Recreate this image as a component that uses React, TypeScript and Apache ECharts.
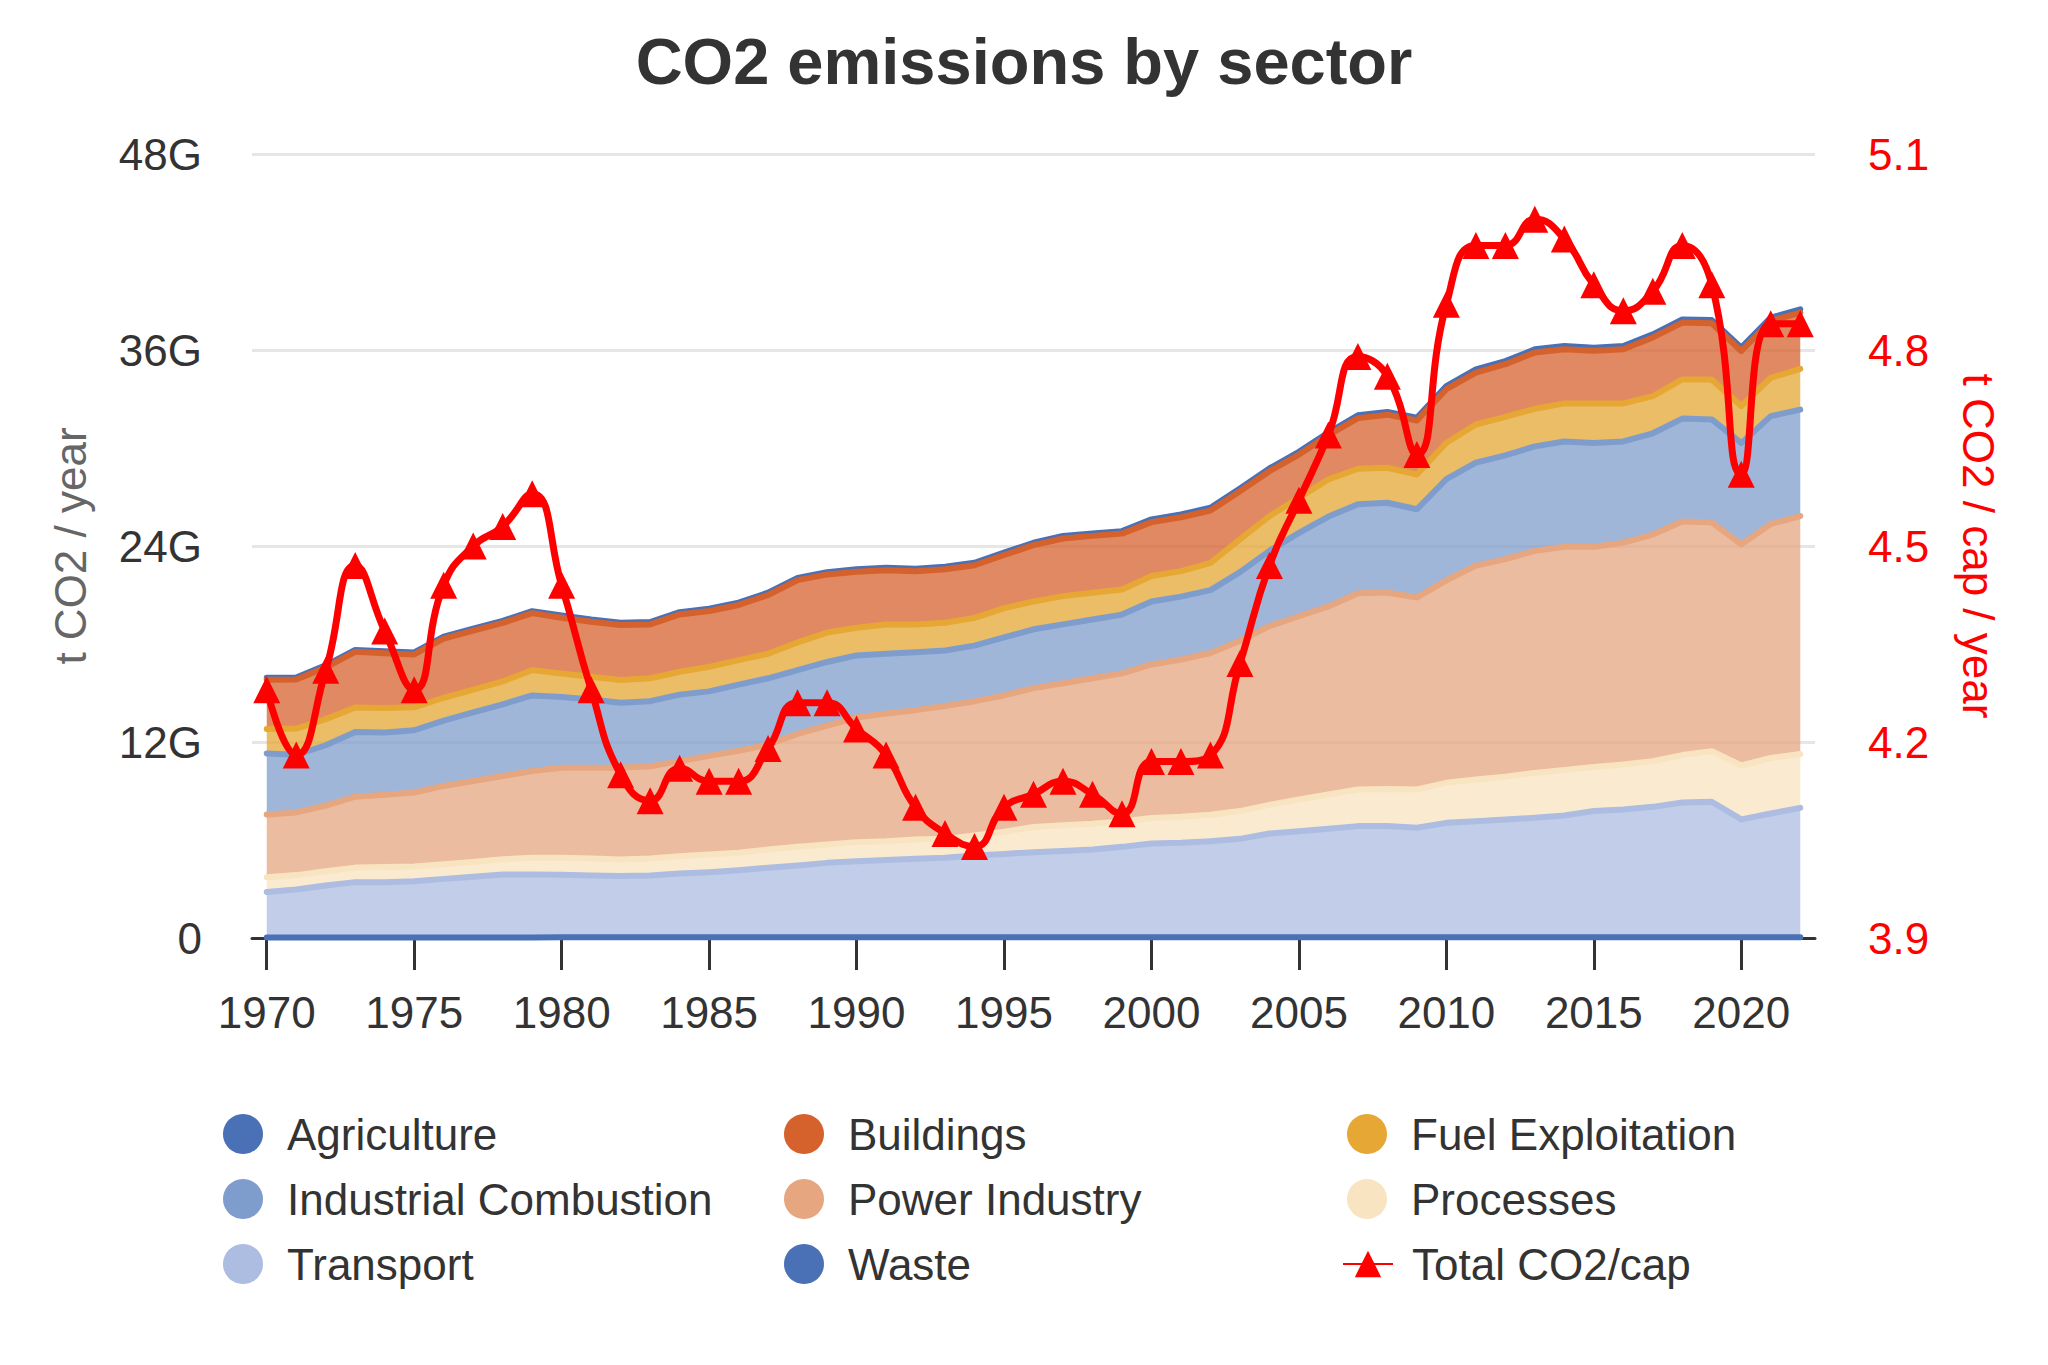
import React, { useEffect, useRef } from 'react';
import * as echarts from 'echarts';

// Emissions by sector, in Gt CO2 per year, 1970-2022
const years = [
  '1970', '1971', '1972', '1973', '1974', '1975', '1976', '1977', '1978', '1979',
  '1980', '1981', '1982', '1983', '1984', '1985', '1986', '1987', '1988', '1989',
  '1990', '1991', '1992', '1993', '1994', '1995', '1996', '1997', '1998', '1999',
  '2000', '2001', '2002', '2003', '2004', '2005', '2006', '2007', '2008', '2009',
  '2010', '2011', '2012', '2013', '2014', '2015', '2016', '2017', '2018', '2019',
  '2020', '2021', '2022',
];

const waste = [
  0.03, 0.03, 0.03, 0.03, 0.03, 0.03, 0.03, 0.03, 0.03, 0.03,
  0.04, 0.04, 0.04, 0.04, 0.04, 0.04, 0.04, 0.04, 0.04, 0.04,
  0.04, 0.04, 0.04, 0.04, 0.04, 0.04, 0.04, 0.04, 0.04, 0.04,
  0.05, 0.05, 0.05, 0.05, 0.05, 0.05, 0.05, 0.05, 0.05, 0.05,
  0.05, 0.05, 0.05, 0.05, 0.05, 0.05, 0.05, 0.05, 0.05, 0.05,
  0.05, 0.05, 0.05,
];

const transport = [
  2.78, 2.94, 3.18, 3.39, 3.39, 3.45, 3.59, 3.72, 3.86, 3.86,
  3.83, 3.79, 3.75, 3.79, 3.91, 3.99, 4.11, 4.26, 4.40, 4.56,
  4.66, 4.73, 4.81, 4.87, 5.01, 5.11, 5.21, 5.28, 5.38, 5.54,
  5.74, 5.78, 5.88, 6.02, 6.35, 6.49, 6.64, 6.80, 6.80, 6.70,
  7.00, 7.10, 7.21, 7.31, 7.45, 7.72, 7.82, 7.98, 8.25, 8.29,
  7.21, 7.57, 7.92,
];

const processes = [
  0.91, 0.88, 0.88, 0.89, 0.92, 0.90, 0.89, 0.90, 0.93, 1.02,
  1.04, 1.04, 1.02, 1.04, 1.06, 1.08, 1.07, 1.12, 1.14, 1.13,
  1.17, 1.16, 1.18, 1.16, 1.23, 1.35, 1.55, 1.58, 1.57, 1.55,
  1.56, 1.59, 1.62, 1.70, 1.75, 1.94, 2.10, 2.24, 2.28, 2.34,
  2.45, 2.56, 2.61, 2.75, 2.78, 2.70, 2.75, 2.80, 2.90, 3.10,
  3.30, 3.40, 3.30,
];

const powerIndustry = [
  3.84, 3.84, 4.02, 4.34, 4.43, 4.53, 4.80, 4.96, 5.10, 5.31,
  5.51, 5.55, 5.61, 5.65, 5.82, 6.04, 6.24, 6.43, 6.92, 7.27,
  7.63, 7.82, 7.92, 8.13, 8.22, 8.35, 8.50, 8.70, 8.91, 9.07,
  9.40, 9.63, 9.90, 10.43, 10.95, 11.22, 11.51, 12.01, 12.02, 11.76,
  12.40, 13.09, 13.33, 13.59, 13.67, 13.48, 13.58, 13.87, 14.30, 14.01,
  13.54, 14.33, 14.56,
];

const industrialCombustion = [
  3.74, 3.53, 3.69, 3.96, 3.81, 3.81, 4.00, 4.20, 4.39, 4.63,
  4.33, 4.18, 3.98, 3.98, 4.07, 3.95, 4.05, 4.05, 3.90, 3.90,
  3.80, 3.65, 3.55, 3.40, 3.40, 3.55, 3.60, 3.60, 3.60, 3.60,
  3.85, 3.85, 3.85, 4.20, 4.60, 5.10, 5.50, 5.45, 5.50, 5.40,
  6.20, 6.30, 6.35, 6.40, 6.45, 6.35, 6.20, 6.20, 6.30, 6.30,
  6.20, 6.60, 6.52,
];

const fuelExploitation = [
  1.50, 1.60, 1.60, 1.50, 1.50, 1.40, 1.40, 1.40, 1.40, 1.55,
  1.45, 1.40, 1.40, 1.40, 1.40, 1.50, 1.50, 1.50, 1.70, 1.80,
  1.70, 1.80, 1.70, 1.70, 1.70, 1.80, 1.70, 1.73, 1.64, 1.54,
  1.56, 1.56, 1.67, 2.00, 2.13, 2.15, 2.28, 2.18, 2.14, 2.13,
  2.22, 2.34, 2.36, 2.30, 2.33, 2.43, 2.33, 2.28, 2.40, 2.45,
  2.27, 2.35, 2.50,
];

const buildings = [
  3.01, 3.01, 3.17, 3.41, 3.36, 3.24, 3.62, 3.61, 3.58, 3.49,
  3.41, 3.36, 3.36, 3.30, 3.51, 3.42, 3.38, 3.60, 3.81, 3.56,
  3.42, 3.32, 3.26, 3.28, 3.22, 3.25, 3.45, 3.53, 3.48, 3.42,
  3.30, 3.30, 3.20, 2.95, 2.75, 2.65, 2.70, 3.10, 3.25, 3.30,
  3.28, 3.18, 3.22, 3.45, 3.32, 3.22, 3.32, 3.59, 3.48, 3.44,
  3.37, 3.48, 3.44,
];

const agriculture = [
  0.12, 0.12, 0.12, 0.12, 0.12, 0.12, 0.12, 0.12, 0.12, 0.12,
  0.14, 0.14, 0.14, 0.14, 0.14, 0.14, 0.14, 0.14, 0.14, 0.14,
  0.15, 0.15, 0.15, 0.15, 0.15, 0.15, 0.15, 0.15, 0.15, 0.15,
  0.17, 0.17, 0.17, 0.17, 0.17, 0.17, 0.17, 0.17, 0.17, 0.17,
  0.19, 0.19, 0.19, 0.19, 0.19, 0.19, 0.19, 0.19, 0.19, 0.19,
  0.20, 0.20, 0.20,
];

// Total CO2 per capita, t CO2 / cap / year
const totalPerCapita = [
  4.28, 4.18, 4.31, 4.47, 4.37, 4.28, 4.44, 4.50, 4.53, 4.58,
  4.44, 4.28, 4.15, 4.11, 4.16, 4.14, 4.14, 4.19, 4.26, 4.26,
  4.22, 4.18, 4.10, 4.06, 4.04, 4.10, 4.12, 4.14, 4.12, 4.09,
  4.17, 4.17, 4.18, 4.32, 4.47, 4.57, 4.67, 4.79, 4.76, 4.64,
  4.87, 4.96, 4.96, 5.00, 4.97, 4.90, 4.86, 4.89, 4.96, 4.90,
  4.61, 4.84, 4.84,
];

// Stacking order, bottom to top; z keeps the thin top band's line under its neighbour
const stackedSectors = [
  { name: 'Waste', values: waste, color: '#4a70b6', z: 2 },
  { name: 'Transport', values: transport, color: '#adbce1', z: 2 },
  { name: 'Processes', values: processes, color: '#f8e4c0', z: 2 },
  { name: 'Power Industry', values: powerIndustry, color: '#e5a680', z: 2 },
  { name: 'Industrial Combustion', values: industrialCombustion, color: '#7f9dcc', z: 2 },
  { name: 'Fuel Exploitation', values: fuelExploitation, color: '#e6a734', z: 2 },
  { name: 'Buildings', values: buildings, color: '#d5612d', z: 2 },
  { name: 'Agriculture', values: agriculture, color: '#4a70b6', z: 1 },
];

const leftTicks = { min: 0, max: 48, interval: 12 };
const rightTicks = { min: 3.9, max: 5.1, interval: 0.3 };

const FONT = '"Liberation Sans", Arial, Helvetica, sans-serif';
const TEXT = '#333333';
const RED = '#ff0000';

const legendColumns = [
  { left: 223, top: 1112, names: ['Agriculture', 'Industrial Combustion', 'Transport'] },
  { left: 784, top: 1112, names: ['Buildings', 'Power Industry', 'Waste'] },
  { left: 1347, top: 1112, names: ['Fuel Exploitation', 'Processes'] },
];

function buildOption() {
  const legendText = { fontSize: 44, color: TEXT, fontFamily: FONT, lineHeight: 40, padding: [0, 0, 0, 14] };
  const legends: any[] = legendColumns.map((col) => ({
    orient: 'vertical',
    left: col.left,
    top: col.top,
    padding: 0,
    itemWidth: 50,
    itemHeight: 40,
    itemGap: 21,
    data: col.names.map((n) => ({ name: n, icon: 'circle' })),
    textStyle: legendText,
  }));
  legends.push({
    orient: 'vertical',
    left: 1342,
    top: 1242,
    padding: 0,
    itemWidth: 50,
    itemHeight: 33,
    data: [{ name: 'Total CO2/cap' }],
    textStyle: legendText,
  });

  const areaSeries = stackedSectors.map((s) => ({
    name: s.name,
    type: 'line',
    stack: 'total',
    data: s.values,
    color: s.color,
    symbol: 'none',
    smooth: false,
    lineStyle: { width: 6, color: s.color, cap: 'round', join: 'round' },
    areaStyle: { color: s.color, opacity: 0.75 },
    itemStyle: { color: s.color },
    emphasis: { disabled: true },
    z: s.z,
  }));

  return {
    animation: false,
    backgroundColor: '#ffffff',
    textStyle: { fontFamily: FONT },
    title: {
      text: 'CO2 emissions by sector',
      left: 'center',
      top: 29,
      padding: 0,
      textStyle: { fontSize: 65, fontWeight: 'bold', color: TEXT, fontFamily: FONT },
    },
    legend: legends,
    grid: { left: 252, right: 233, top: 154, bottom: 427 },
    xAxis: {
      type: 'category',
      data: years,
      boundaryGap: true,
      axisLine: { show: true, lineStyle: { color: TEXT, width: 3 } },
      axisTick: { show: true, alignWithLabel: true, interval: 4, length: 32, lineStyle: { color: TEXT, width: 3 } },
      axisLabel: { interval: 4, fontSize: 44, color: TEXT, margin: 52, fontFamily: FONT },
      splitLine: { show: false },
    },
    yAxis: [
      {
        type: 'value',
        min: leftTicks.min,
        max: leftTicks.max,
        interval: leftTicks.interval,
        position: 'left',
        name: 't CO2 / year',
        nameLocation: 'middle',
        nameGap: 160,
        nameTextStyle: { fontSize: 44, color: '#666666', fontFamily: FONT },
        axisLine: { show: false },
        axisTick: { show: false },
        axisLabel: {
          fontSize: 44,
          color: TEXT,
          margin: 50,
          fontFamily: FONT,
          formatter: (v: number) => (v === 0 ? '0' : `${v}G`),
        },
        splitLine: { show: true, lineStyle: { color: '#e6e6e6', width: 3 } },
      },
      {
        type: 'value',
        min: rightTicks.min,
        max: rightTicks.max,
        interval: rightTicks.interval,
        position: 'right',
        name: 't CO2 / cap / year',
        nameLocation: 'middle',
        nameRotate: -90,
        nameGap: 141,
        nameTextStyle: { fontSize: 44, color: RED, fontFamily: FONT },
        axisLine: { show: false },
        axisTick: { show: false },
        axisLabel: {
          fontSize: 44,
          color: RED,
          margin: 53,
          fontFamily: FONT,
          formatter: (v: number) => v.toFixed(1),
        },
        splitLine: { show: false },
      },
    ],
    series: [
      ...areaSeries,
      {
        name: 'Total CO2/cap',
        type: 'line',
        yAxisIndex: 1,
        data: totalPerCapita,
        smooth: true,
        symbol: 'triangle',
        symbolSize: 27,
        showSymbol: true,
        showAllSymbol: true,
        color: RED,
        lineStyle: { width: 7, color: RED },
        itemStyle: { color: RED },
        emphasis: { disabled: true },
        z: 10,
      },
    ],
  };
}

export default function App() {
  const ref = useRef<HTMLDivElement>(null);

  useEffect(() => {
    if (!ref.current) return;
    const chart = echarts.init(ref.current, undefined, { renderer: 'svg' });
    chart.setOption(buildOption() as any);
    return () => {
      chart.dispose();
    };
  }, []);

  return (
    <div
      ref={ref}
      style={{ position: 'fixed', left: 0, top: 0, width: 2048, height: 1365, background: '#ffffff' }}
    />
  );
}
